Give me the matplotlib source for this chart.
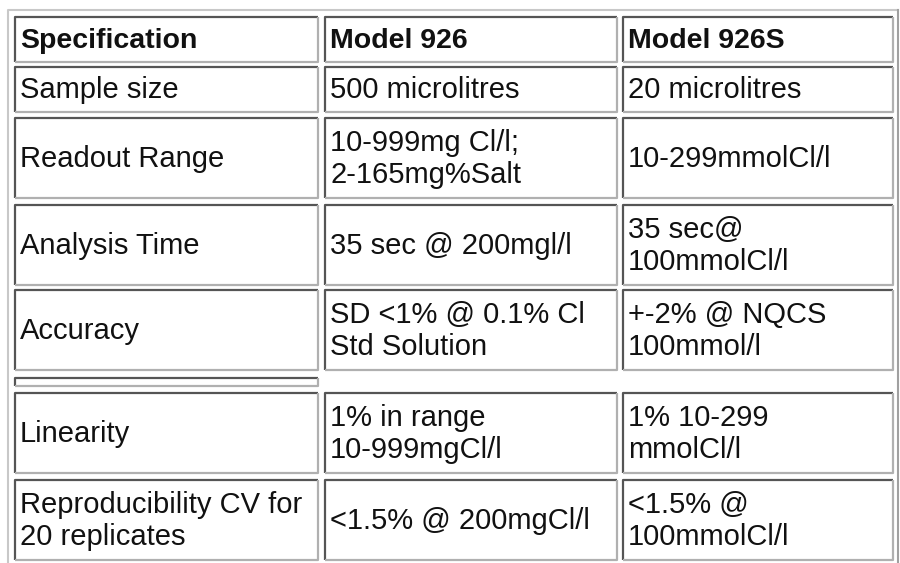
import matplotlib
matplotlib.use("Agg")
import matplotlib.pyplot as plt
from matplotlib.patches import Rectangle

headers = ["Specification", "Model 926", "Model 926S"]
specs = ["Sample size", "Readout Range", "Analysis Time", "Accuracy", "",
         "Linearity", "Reproducibility CV for\n20 replicates"]
model_926 = ["500 microlitres", "10-999mg Cl/l;\n2-165mg%Salt", "35 sec @ 200mgl/l",
             "SD <1% @ 0.1% Cl\nStd Solution", None, "1% in range\n10-999mgCl/l",
             "<1.5% @ 200mgCl/l"]
model_926s = ["20 microlitres", "10-299mmolCl/l", "35 sec@\n100mmolCl/l",
              "+-2% @ NQCS\n100mmol/l", None, "1% 10-299\nmmolCl/l",
              "<1.5% @\n100mmolCl/l"]

cols = [(15, 318), (325, 617), (623, 893)]
rows = [(17, 62), (67, 112), (118, 198), (205, 285), (290, 370), (378, 386),
        (393, 473), (480, 560)]

fig = plt.figure(figsize=(9, 5.63), dpi=100)
ax = fig.add_axes([0, 0, 1, 1])
ax.set_xlim(0, 900)
ax.set_ylim(563, 0)
ax.axis("off")

# outer table border
ax.plot([8, 8, 898], [563, 10, 10], color="#c8c8c8", lw=1.5)
ax.plot([898, 898], [10, 563], color="#a0a0a0", lw=1.5)

def cell(x0, x1, y0, y1):
    ax.plot([x0, x0, x1], [y1, y0, y0], color="#555555", lw=1.6, solid_capstyle="butt")
    ax.plot([x0, x1, x1], [y1, y1, y0], color="#b0b0b0", lw=1.6, solid_capstyle="butt")

table = [headers] + [[s, a, b] for s, a, b in zip(specs, model_926, model_926s)]
for r, (y0, y1) in enumerate(rows):
    for c, (x0, x1) in enumerate(cols):
        val = table[r][c]
        if val is None:
            continue
        cell(x0, x1, y0, y1)
        if val:
            ax.text(x0 + 5, (y0 + y1) / 2 + 1, val, ha="left", va="center",
                    fontsize=21 if r else 20.5, fontweight="bold" if r == 0 else "normal",
                    family="Liberation Sans", color="#111111", linespacing=1.2)

fig.savefig("out.png", dpi=100)
